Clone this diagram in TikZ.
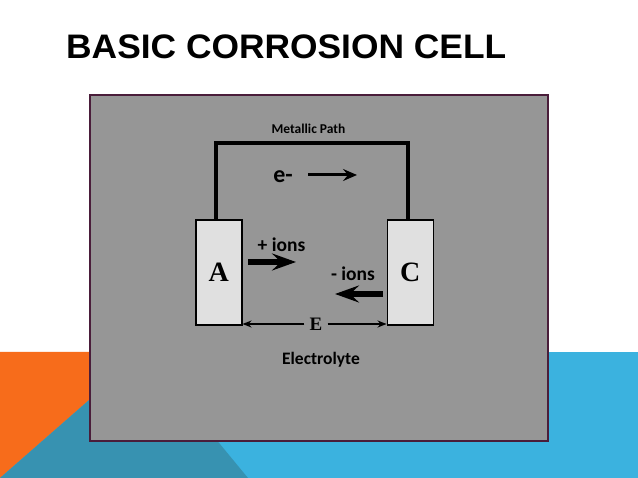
\documentclass[tikz,border=0pt]{standalone}
\usepackage{fontspec}
\setmainfont{Liberation Serif}
\newfontfamily\calfont{Carlito}
\newfontfamily\ttlfont{Liberation Sans}
\usetikzlibrary{arrows.meta}
\definecolor{orng}{HTML}{F76C1B}
\definecolor{teal2}{HTML}{3792B1}
\definecolor{blu}{HTML}{3BB2DF}
\definecolor{panelgray}{HTML}{969696}
\definecolor{panelborder}{HTML}{4A1D3A}
\definecolor{electrode}{HTML}{E0E0E0}
\tikzset{
  electrodebox/.style={draw=black, line width=1.5pt, fill=electrode, minimum width=46pt, minimum height=105pt, inner sep=0pt, font=\bfseries\fontsize{28}{28}\selectfont},
  wire/.style={line width=3.8pt},
  smalllabel/.style={font=\calfont\bfseries\fontsize{13.5}{13.5}\selectfont, inner sep=0pt},
  ionlabel/.style={font=\calfont\bfseries\fontsize{19.5}{19.5}\selectfont, inner sep=0pt},
  thinarrow/.style={line width=3pt, -{Stealth[length=14pt,width=12pt,inset=5pt]}},
  fatarrow/.style={line width=6.5pt, -{Stealth[length=24pt,width=17pt,inset=9pt]}},
  dimarrow/.style={line width=1.8pt, -{Stealth[length=9pt,width=7pt,inset=3pt]}}
}
\begin{document}
\begin{tikzpicture}[x=1pt,y=-1pt]
\useasboundingbox (0,0) rectangle (638,478);
% background
\fill[white] (0,0) rectangle (638,478);
\fill[blu] (0,352) rectangle (638,478);
\fill[orng] (0,352) -- (144,352) -- (0,478) -- cycle;
\fill[teal2] (0,478) -- (144,352) -- (248,478) -- cycle;
% title
\node[anchor=south west, inner sep=0pt, font=\ttlfont\bfseries\fontsize{34}{34}\selectfont, xscale=1.04, transform shape] (title) at (66,59.5) {BASIC CORROSION CELL};
% panel
\node[draw=panelborder, line width=2pt, fill=panelgray, minimum width=458pt, minimum height=346pt, inner sep=0pt] (panel) at (319,268) {};
% electrodes
\node[electrodebox] (A) at (218.8,272.5) {A};
\node[electrodebox] (C) at (410.3,272.5) {C};
% metallic path
\draw[wire] ([xshift=-2.5pt]A.north) -- ++(0,-76) coordinate (tl) -| ([xshift=-2.5pt]C.north);
\node[smalllabel] (mp) at (308.5,129) {Metallic Path};
\node[ionlabel, font=\calfont\bfseries\fontsize{24}{24}\selectfont] (e) at (283,177) {e-};
\coordinate (ea1) at (308,175);
\coordinate (ea2) at (357,175);
\draw[thinarrow] (ea1) -- (ea2);
% ions
\node[ionlabel] (pi) at (281.5,245) {+ ions};
\coordinate (pa1) at (248,262);
\coordinate (pa2) at (296,262);
\draw[fatarrow] (pa1) -- (pa2);
\node[ionlabel] (ni) at (353,274) {- ions};
\coordinate (na1) at (383,294);
\coordinate (na2) at (335,294);
\draw[fatarrow] (na1) -- (na2);
% E
\node[font=\bfseries\fontsize{19}{19}\selectfont, inner sep=5pt] (E) at (316,324) {E};
\draw[dimarrow] (E.west) -- (A.east |- E.west);
\draw[dimarrow] (E.east) -- (C.west |- E.east);
\node[smalllabel, font=\calfont\bfseries\fontsize{17.5}{17.5}\selectfont] (el) at (321,360) {Electrolyte};
\end{tikzpicture}
\end{document}
